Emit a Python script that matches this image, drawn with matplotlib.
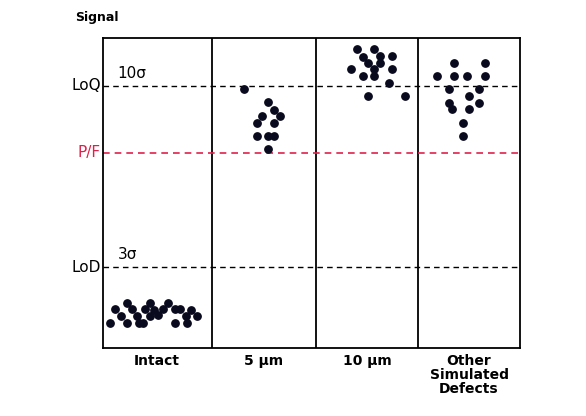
import matplotlib
matplotlib.use("Agg")
import matplotlib.pyplot as plt

categories = ["Intact", "5 µm", "10 µm", "Other\nSimulated\nDefects"]
# x positions (horizontal pixel-like units) and signal values (348 - pixel y)
intact_x = [110,115,121,127,127,132,137,139,143,145,150,150,154,158,163,168,175,175,180,186,187,191,197]
intact_y = [25,39,32,45,25,39,32,25,25,39,45,32,38,33,39,45,39,25,39,32,25,38,32]
um5_x = [244,268,274,262,280,257,274,257,268,274,268]
um5_y = [259,246,238,232,232,225,225,212,212,212,199]
um10_x = [357,374,363,380,392,368,380,351,374,392,363,374,389,368,405]
um10_y = [299,299,291,292,292,285,285,279,279,279,272,272,265,252,252]
oth_x = [454,485,437,454,467,485,449,479,469,449,479,452,469,463,463]
oth_y = [285,285,272,272,272,272,259,259,252,245,245,239,239,225,212]
levels = {"LoQ": 262, "P/F": 195, "LoD": 81}

fig = plt.figure(figsize=(5.86, 4.16), dpi=100)
ax = fig.add_axes([103/586, 1-348/416, 417/586, 310/416])
ax.set_xlim(103, 520)
ax.set_ylim(0, 310)
for xs, ys in [(intact_x, intact_y), (um5_x, um5_y), (um10_x, um10_y), (oth_x, oth_y)]:
    ax.scatter(xs, ys, s=28, color="#0a0a1e", zorder=3)
for xd in [212, 316, 418]:
    ax.axvline(xd, color="black", lw=1.3)
ax.axhline(levels["LoQ"], color="black", ls=(0, (4, 3)), lw=1)
ax.axhline(levels["P/F"], color="#e0204a", ls=(0, (4, 3)), lw=1.2)
ax.axhline(levels["LoD"], color="black", ls=(0, (4, 3)), lw=1)
ax.set_xticks([]); ax.set_yticks([])
for s in ax.spines.values():
    s.set_linewidth(1.3)
yt = ax.get_yaxis_transform()
ax.text(-0.005, levels["LoQ"], "LoQ", ha="right", va="center", fontsize=11, transform=yt)
ax.text(-0.005, levels["P/F"], "P/F", ha="right", va="center", fontsize=11, color="#e0204a", transform=yt)
ax.text(-0.005, levels["LoD"], "LoD", ha="right", va="center", fontsize=11, transform=yt)
ax.text(117, levels["LoQ"] + 5, "10σ", fontsize=11, va="bottom")
ax.text(118, levels["LoD"] + 5, "3σ", fontsize=11, va="bottom")
fig.text(75/586, 1-18/416, "Signal", fontsize=9, fontweight="bold", va="center")
centers = [157, 264, 367, 469]
for c, lab in zip(centers, categories):
    ax.text(c, -6, lab, ha="center", va="top", fontsize=10, fontweight="bold", linespacing=1.0)
fig.savefig("out.png", dpi=100)
